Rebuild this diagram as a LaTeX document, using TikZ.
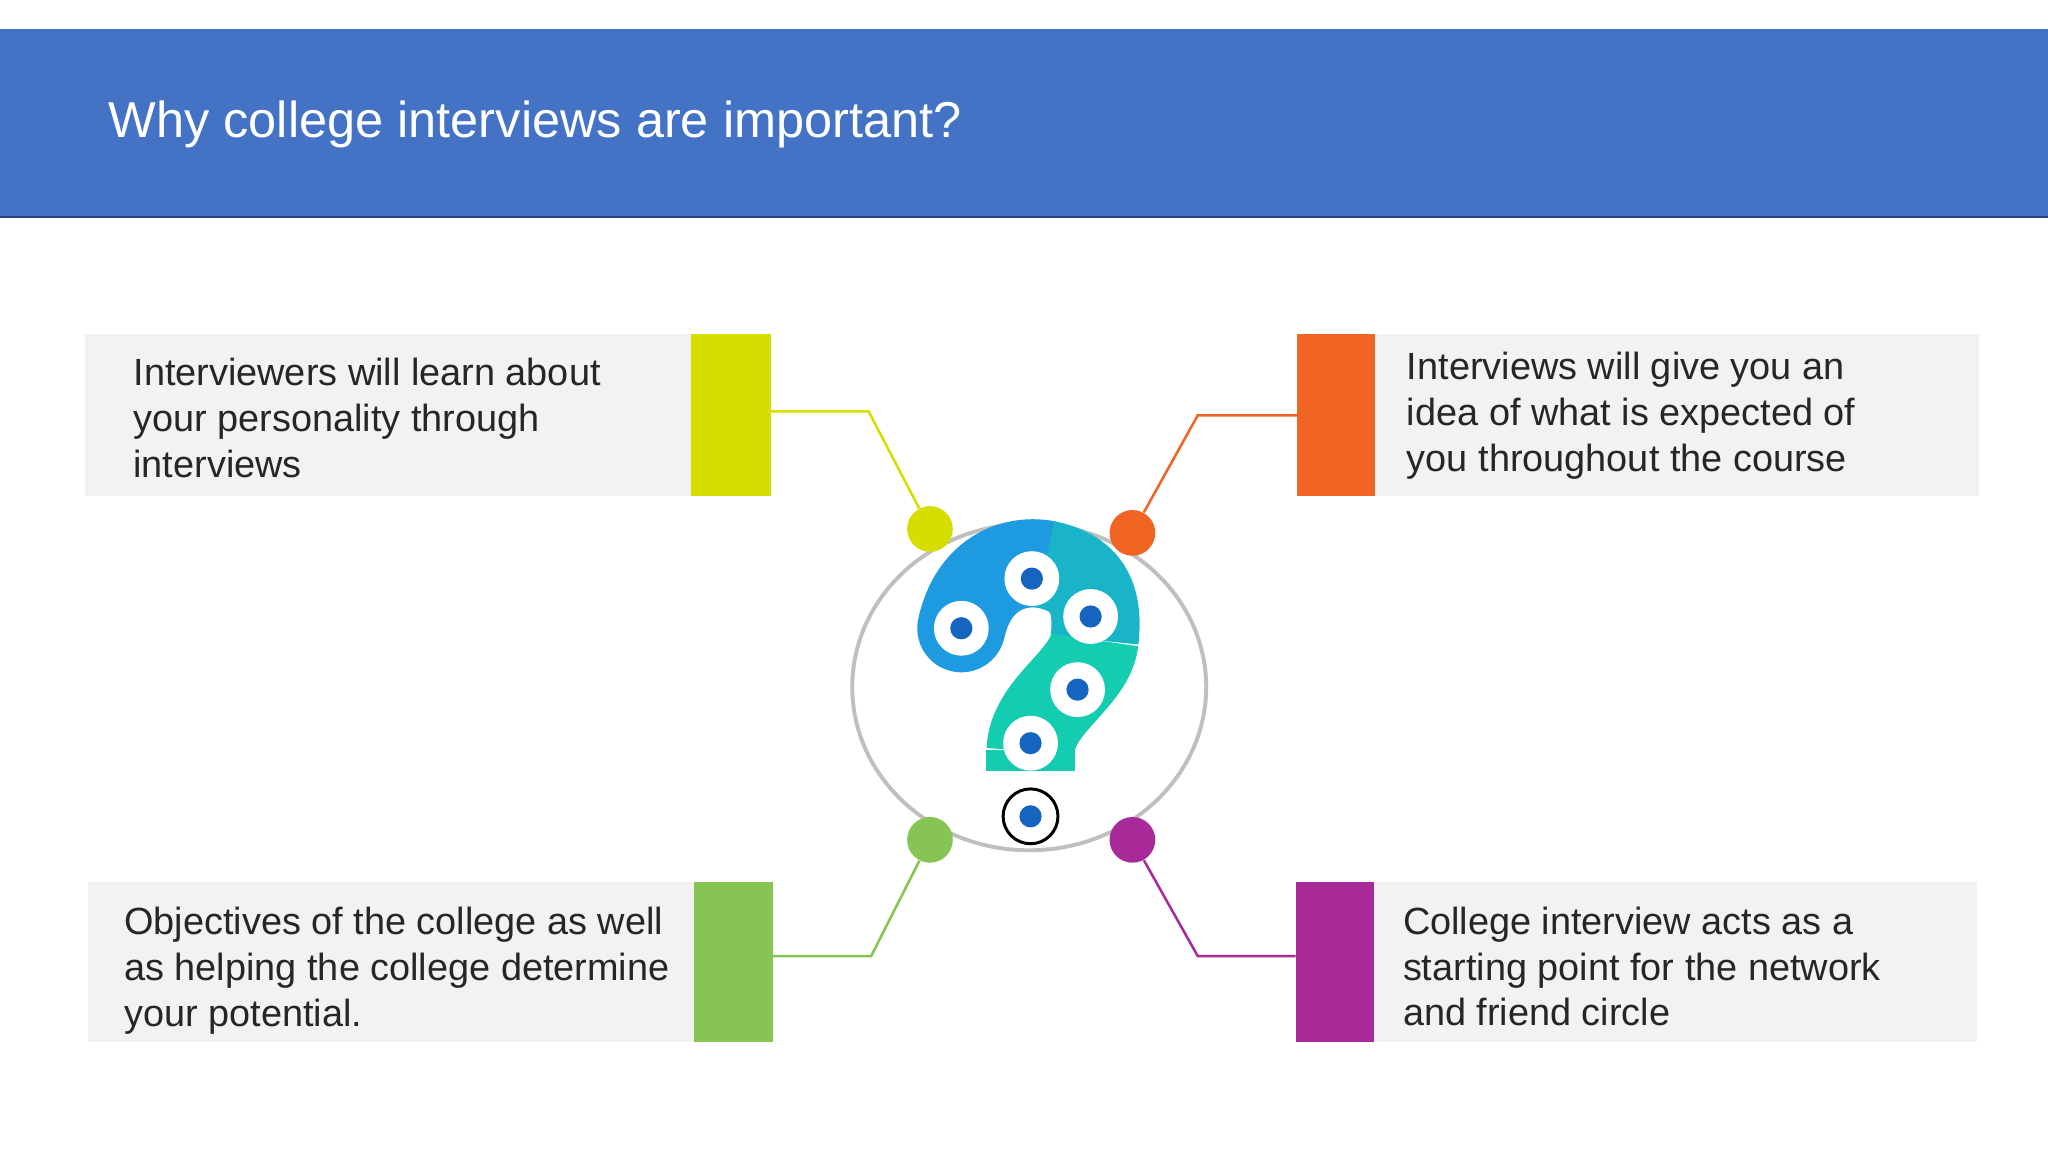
\documentclass[tikz,border=0pt]{standalone}
\usepackage{fontspec}
\setmainfont{Liberation Sans}
\definecolor{hdr}{HTML}{4472C4}
\definecolor{boxg}{HTML}{F2F2F4}
\definecolor{cy}{HTML}{D6DE00}
\definecolor{co}{HTML}{F06424}
\definecolor{cg}{HTML}{86C553}
\definecolor{cp}{HTML}{A82A98}
\definecolor{qb}{HTML}{1E9BE0}
\definecolor{qt}{HTML}{14CCB0}
\definecolor{dotb}{HTML}{1565C0}
\tikzset{
 txt/.style={font=\fontsize{16.5}{20}\selectfont, align=left, anchor=west, text=black!85},
 conn/.style={line width=1.1pt},
 knob/.style={circle, minimum size=0.7cm, inner sep=0pt},
 qdot/.style={circle, fill=white, minimum size=0.84cm, inner sep=0pt, path picture={\fill[dotb] (path picture bounding box.center) circle (0.17cm);}},
}
\begin{document}
\begin{tikzpicture}[x=0.02cm,y=-0.02cm]
\useasboundingbox (0,0) rectangle (1568,882);
\fill[white] (0,0) rectangle (1568,882);
% header
\fill[hdr] (0,22) rectangle (1568,166);
\draw[hdr!60!black, line width=0.6pt] (0,166) -- (1568,166);
\node[anchor=west, text=white, font=\fontsize{22}{26}\selectfont] (title) at (77,95) {Why college interviews are important?};
% boxes
\fill[boxg] (65,256) rectangle (530,380);
\fill[cy] (529,256) rectangle (590,380);
\node[txt] (t1) at (96,320) {Interviewers will learn about\\your personality through\\interviews};
\fill[boxg] (1053,256) rectangle (1515,380);
\fill[co] (993,256) rectangle (1053,380);
\node[txt] (t2) at (1071,318) {Interviews will give you an\\idea of what is expected of\\you throughout the course};
\fill[boxg] (67,675) rectangle (531,798);
\fill[cg] (531,675) rectangle (592,798);
\node[txt] (t3) at (89,743) {Objectives of the college as well\\as helping the college determine\\your potential.};
\fill[boxg] (1052,675) rectangle (1514,798);
\fill[cp] (992,675) rectangle (1052,798);
\node[txt] (t4) at (1068,740) {College interview acts as a\\starting point for the network\\and friend circle};
% ring
\draw[black!25, line width=1.7pt] (788,526) ellipse [x radius=135.5, y radius=125];
% knobs and connectors
\node[knob, fill=cy] (ky) at (712,405) {};
\node[knob, fill=co] (ko) at (867,408) {};
\node[knob, fill=cg] (kg) at (712,643) {};
\node[knob, fill=cp] (kp) at (867,643) {};
\coordinate (by) at (590,315); \coordinate (ey) at (665,315);
\coordinate (bo) at (993,318); \coordinate (eo) at (917,318);
\coordinate (bg) at (592,732); \coordinate (eg) at (667,732);
\coordinate (bp) at (992,732); \coordinate (ep) at (917,732);
\draw[conn, cy] (by) -- (ey) -- (ky);
\draw[conn, co] (bo) -- (eo) -- (ko);
\draw[conn, cg] (bg) -- (eg) -- (kg);
\draw[conn, cp] (bp) -- (ep) -- (kp);
% question mark
\draw[qb, line width=1.35cm, line cap=round] (736,481) .. controls (745,440) and (775,428) .. (800,432);
\draw[qb!50!qt, line width=1.35cm] (800,432) .. controls (830,438) and (842,455) .. (838,490);
\draw[qt, line width=1.35cm] (838,490) .. controls (835,520) and (790,540) .. (789,575);
\draw[qt, line width=1.35cm] (789,574) -- (789,590);
\node[qdot] (d1) at (736,481) {};
\node[qdot] (d2) at (790,443) {};
\node[qdot] (d3) at (835,472) {};
\node[qdot] (d4) at (825,528) {};
\node[qdot] (d5) at (789,569) {};
\node[qdot, draw=black, line width=1.3pt] (d6) at (789,625) {};
\end{tikzpicture}
\end{document}
